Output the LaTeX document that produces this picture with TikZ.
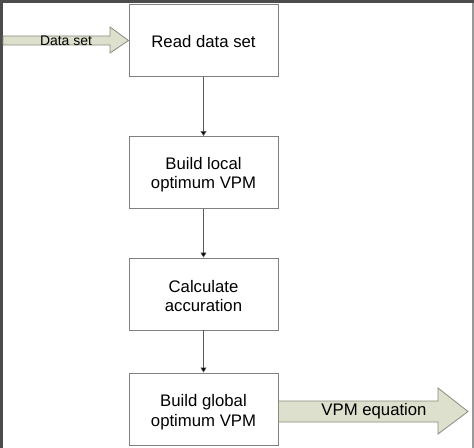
\documentclass[tikz,border=0pt]{standalone}
\usepackage{fontspec}
\setmainfont{Liberation Sans}
\usetikzlibrary{arrows.meta}
\definecolor{arrowfill}{HTML}{DCE0CC}
\definecolor{arrowline}{HTML}{8A8A80}
\definecolor{boxline}{HTML}{808080}
\begin{document}
\begin{tikzpicture}[x=1bp,y=-1bp,
  stepbox/.style={draw=boxline,line width=0.9bp,fill=white,minimum width=149bp,minimum height=72bp,inner sep=0pt},
  boxtext/.style={align=center,inner sep=0pt,font=\fontsize{16.8}{19.5}\selectfont},
  flow/.style={draw=black!65,line width=0.6bp,-{Triangle[length=5bp,width=6bp,fill=black]}},
  blockarrow/.style={draw=arrowline,line width=0.8bp,fill=arrowfill,line join=miter}]
\useasboundingbox (0,0) rectangle (474,448);
\fill[white] (0,0) rectangle (474,448);
% frame
\fill[black!70] (0,0) rectangle (474,3);
\fill[black!70] (0,0) rectangle (2.5,448);
\fill[black!40] (471.5,3) rectangle (474,448);
% boxes
\node[stepbox] (read) at (203.5,40.5) {};
\node[stepbox] (local) at (203.5,172.5) {};
\node[stepbox] (acc) at (203.5,294) {};
\node[stepbox] (global) at (203.5,409) {};
\node[boxtext] (readt) at ([yshift=-1bp]read.center) {Read data set};
\node[boxtext] (localt) at ([yshift=-2bp]local.center) {Build local\\optimum VPM};
\node[boxtext] (acct) at ([yshift=-2bp]acc.center) {Calculate\\accuration};
\node[boxtext] (globalt) at ([yshift=-3bp]global.center) {Build global\\optimum VPM};
% connectors
\draw[flow] (read.south) -- (local.north);
\draw[flow] (local.south) -- (acc.north);
\draw[flow] (acc.south) -- (global.north);
% input block arrow
\coordinate (inA) at (3,36);
\draw[blockarrow] (inA) -- (110,36) -- (110,27) -- (read.west) -- (110,53) -- (110,45) -- (3,45) -- cycle;
\node[font=\fontsize{14}{16}\selectfont] (dslabel) at (66,40.5) {Data set};
% output block arrow
\coordinate (outTip) at (468,411.5);
\draw[blockarrow] (global.east |- 0,401) -- (438,401) -- (438,388) -- (outTip) -- (438,434) -- (438,422) -- (global.east |- 0,422) -- cycle;
\node[font=\fontsize{16.8}{19}\selectfont] (vpmlabel) at (374,411.5) {VPM equation};
\end{tikzpicture}
\end{document}
